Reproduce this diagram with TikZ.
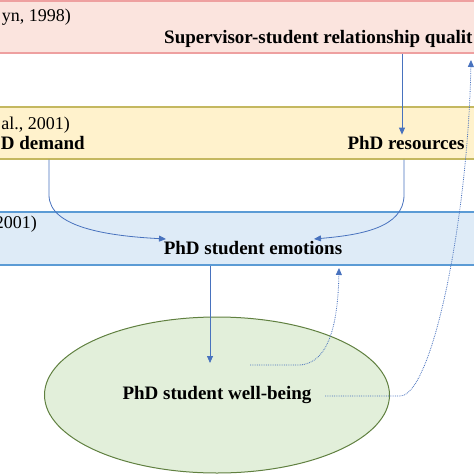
\documentclass[tikz,border=0pt]{standalone}
\usepackage{fontspec}
\setmainfont{Liberation Serif}
\usetikzlibrary{calc}
\usetikzlibrary{arrows.meta}
\usetikzlibrary{shapes.geometric}

\definecolor{pinkfill}{RGB}{251,228,222}
\definecolor{pinkline}{RGB}{238,160,160}
\definecolor{yellowfill}{RGB}{255,242,204}
\definecolor{yellowline}{RGB}{196,184,96}
\definecolor{bluefill}{RGB}{222,235,247}
\definecolor{blueline}{RGB}{91,155,213}
\definecolor{wbfill}{RGB}{226,239,218}
\definecolor{wbline}{RGB}{96,128,64}
\definecolor{arrowblue}{RGB}{72,114,190}

\begin{document}
\begin{tikzpicture} [x=1pt, y=-1pt,
  band/.style={minimum width=520pt, inner sep=0pt, line width=1.3pt},
  lbl/.style={font=\fontsize{19}{22}\selectfont\bfseries, inner sep=1pt, anchor=base},
  cite/.style={font=\fontsize{18}{21}\selectfont, inner sep=0pt, anchor=base east},
  arr/.style={draw=arrowblue, line width=0.8pt, -{Triangle[length=7pt,width=6pt]}},
  dotarr/.style={arr, densely dotted}]
\useasboundingbox (0,0) rectangle (474,474);
\clip (0,0) rectangle (474,474);

% bands
\node[band, fill=pinkfill, draw=pinkline, minimum height=52pt] (relband) at (237,27) {};
\node[band, fill=yellowfill, draw=yellowline, minimum height=52pt] (jdrband) at (237,133) {};
\node[band, fill=bluefill, draw=blueline, minimum height=53pt] (emoband) at (237,238.5) {};

% labels
\node[cite] (relcite) at (71,21) {yn, 1998)};
\node[lbl, anchor=base west] (sup) at (163,43) {Supervisor-student relationship qualit};
\node[cite] (jdrcite) at (70,129) {al., 2001)};
\node[lbl, anchor=base east] (dem) at (86,149) {D demand};
\node[lbl] (res) at (406,149) {PhD resources};
\node[cite] (emocite) at (37,228) {2001)};
\node[lbl] (emo) at (253,254) {PhD student emotions};
\node[ellipse, draw=wbline, fill=wbfill, line width=1pt, minimum width=345pt, minimum height=156pt,
  font=\fontsize{19}{22}\selectfont\bfseries] (wb) at (217,395) {PhD student well-being};

\coordinate (supout) at (relband.south -| 402,0);
\coordinate (demout) at (jdrband.south -| 49,0);
\coordinate (resout) at (jdrband.south -| 404,0);
\coordinate (emoL) at (166,239);
\coordinate (emoR) at (314,239);
\coordinate (emoout) at (emoband.south -| 210,0);
\coordinate (wbin) at (210,363);
\coordinate (wbA) at (250,365);
\coordinate (wbB) at (325,396);
\coordinate (emoin) at (339,268);
\coordinate (supin) at (471,60);

\draw[arr] (supout) -- ($(res.north)+(-4,0)$);
\draw[arr] (demout) -- (49,195) .. controls (49,228) and (110,236) .. (emoL);
\draw[arr] (resout) -- (404,195) .. controls (404,228) and (360,235) .. (emoR);
\draw[arr] (emoout) -- (wbin);
\draw[dotarr] (wbA) -- (298,365) .. controls (330,365) and (338,320) .. (emoin);
\draw[dotarr] (wbB) -- (400,396) .. controls (432,396) and (468,220) .. (supin);

\end{tikzpicture}
\end{document}
